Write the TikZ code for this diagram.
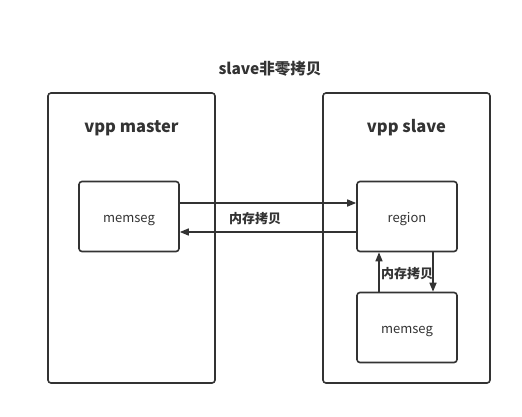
\documentclass[tikz,border=0pt]{standalone}
\usepackage{fontspec}
\setmainfont{Noto Sans CJK SC}
\usetikzlibrary{arrows.meta}
\definecolor{ink}{HTML}{333333}
\tikzset{
  box/.style={draw=ink, line width=1.6pt, rounded corners=3pt},
  inner/.style={box, minimum width=100pt, minimum height=70pt, inner sep=0pt, text height=12pt, text depth=1pt, font=\fontsize{13}{15}\selectfont, text=ink},
  outer/.style={box, minimum width=167pt, minimum height=290pt, inner sep=0pt},
  head/.style={font=\fontsize{16.5}{19}\selectfont\bfseries, text=ink},
  ttl/.style={font=\fontsize{15.5}{18}\selectfont\bfseries, text=ink},
  lab/.style={font=\fontsize{13}{15}\selectfont\bfseries, text=ink},
  link/.style={draw=ink, line width=1.5pt, -{Triangle[length=9pt, width=7pt]}},
}
\begin{document}
\begin{tikzpicture}[x=1pt, y=-1pt]
\useasboundingbox (0,0) rectangle (522,416);
\node[outer] (master) at (131.5,238) {};
\node[outer] (slave) at (406.5,238) {};
\node[ttl] (title) at (270,69) {slave非零拷贝};
\node[head] (mhead) at (131.5,128) {vpp master};
\node[head] (shead) at (406.5,128) {vpp slave};
\node[inner] (mseg) at (129,216.5) {memseg};
\node[inner] (region) at (407,216.5) {region};
\node[inner] (sseg) at (407,327.5) {memseg};
\draw[link] (mseg.east |- 0,203) -- (region.west |- 0,203);
\draw[link] (region.west |- 0,232) -- (mseg.east |- 0,232);
\node[lab] (l1) at (255,218.5) {内存拷贝};
\draw[link] (sseg.north -| 379,0) -- (region.south -| 379,0);
\draw[link] (region.south -| 433,0) -- (sseg.north -| 433,0);
\node[lab] (l2) at (407,273.5) {内存拷贝};
\end{tikzpicture}
\end{document}
